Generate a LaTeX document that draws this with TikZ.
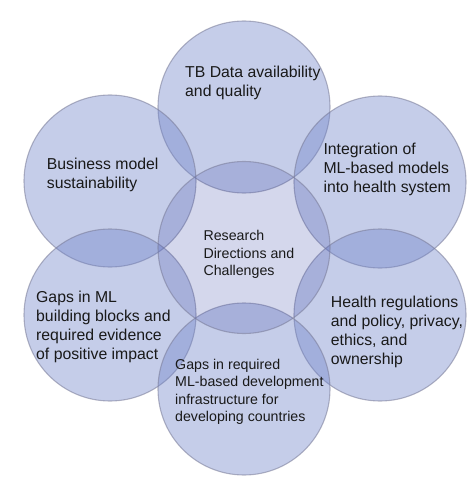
\documentclass[tikz,border=0pt]{standalone}
\usepackage{fontspec}
\setmainfont{Liberation Sans}
\definecolor{petal}{RGB}{110,130,200}
\definecolor{core}{RGB}{68,81,172}
\definecolor{rim}{RGB}{120,122,150}
\definecolor{ink}{RGB}{25,25,25}
\tikzset{
  petalc/.style={circle, minimum size=172pt, inner sep=0pt, fill=petal, fill opacity=0.4, draw=rim, draw opacity=0.55, line width=1.1pt},
  corec/.style={circle, minimum size=172pt, inner sep=0pt, fill=core, fill opacity=0.23, draw=rim, draw opacity=0.55, line width=1.1pt},
  big/.style={anchor=north west, inner sep=0pt, align=left, text=ink, font=\fontsize{15.8}{19}\selectfont},
  small/.style={anchor=north west, inner sep=0pt, align=left, text=ink, font=\fontsize{14.2}{17.2}\selectfont}
}
\begin{document}
\begin{tikzpicture}[x=1pt,y=-1pt]
\useasboundingbox (0,0) rectangle (474,481);
\node[petalc] (t)  at (244,107) {};
\node[petalc] (tl) at (110,181) {};
\node[petalc] (tr) at (380,182) {};
\node[petalc] (bl) at (110,315) {};
\node[petalc] (br) at (380,315) {};
\node[petalc] (b)  at (244,389) {};
\node[corec]  (c)  at (244,247.5) {};
\node[big] (tt) at (185,65.5) {TB Data availability\\and quality};
\node[big] (tlt) at (46.7,158.3) {Business model\\sustainability};
\node[big] (trt) at (323.3,142.7) {Integration of\\ML-based models\\into health system};
\node[small] (ct) at (203.3,230.5) {Research\\Directions and\\Challenges};
\node[big] (blt) at (36,291) {Gaps in ML\\building blocks and\\required evidence\\of positive impact};
\node[big] (brt) at (330.7,295.7) {Health regulations\\and policy, privacy,\\ethics, and\\ownership};
\node[small] (bt) at (175,359.3) {Gaps in required\\ML-based development\\infrastructure for\\developing countries};
\end{tikzpicture}
\end{document}
